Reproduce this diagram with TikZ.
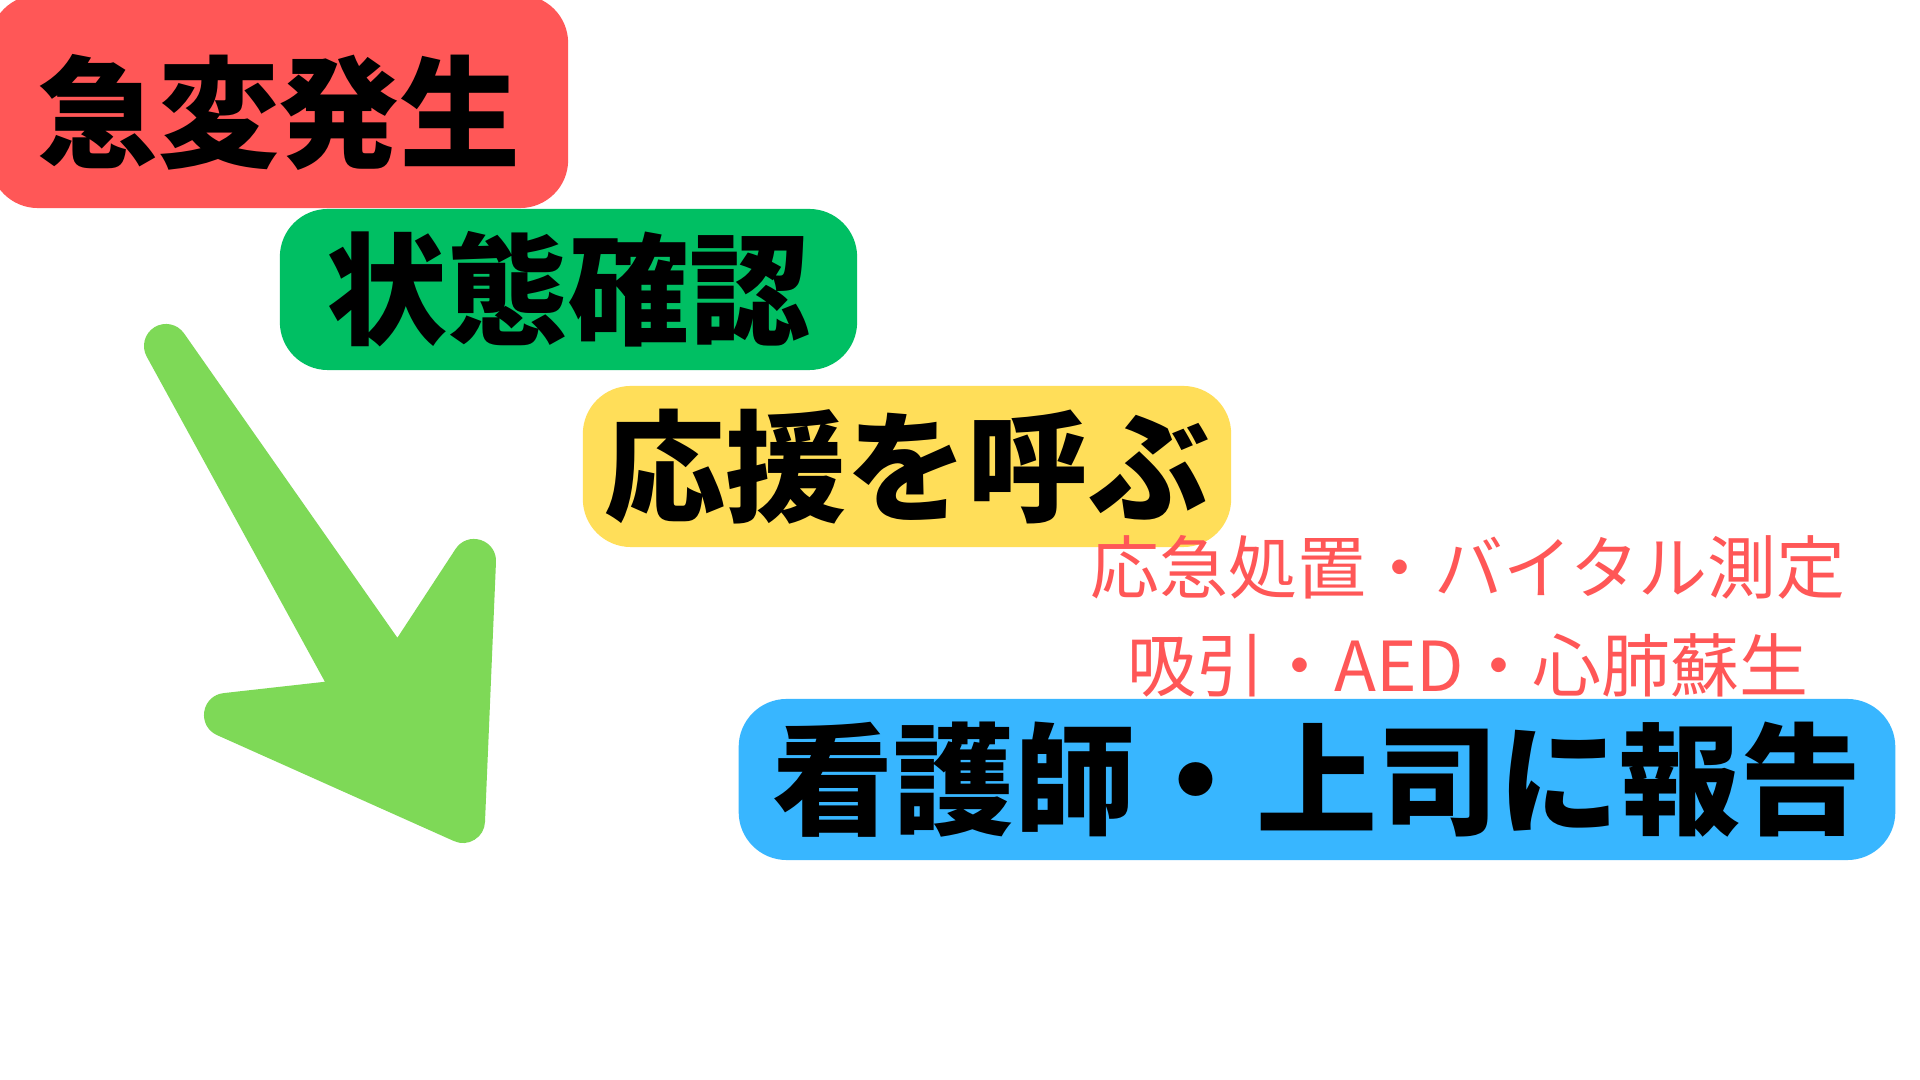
\documentclass[tikz,border=0pt]{standalone}
\usepackage{fontspec}
\usetikzlibrary{positioning}
\newfontfamily\jpfont{Noto Sans CJK JP}
\definecolor{onsetred}{HTML}{FF5757}
\definecolor{checkgreen}{HTML}{00BF63}
\definecolor{callyellow}{HTML}{FFDE59}
\definecolor{reportblue}{HTML}{38B6FF}
\definecolor{flowgreen}{HTML}{7ED957}

\begin{document}
\begin{tikzpicture}[
    x=0.01cm, y=-0.01cm,
    stagebox/.style={rectangle, rounded corners=0.48cm, minimum height=1.61cm, inner sep=0pt,
                     align=center, font=\jpfont\bfseries\fontsize{34.4pt}{40pt}\selectfont},
    onsetbox/.style={stagebox, fill=onsetred, minimum width=5.78cm, minimum height=2.13cm,
                     text height=1.28cm, text depth=0.15cm},
    checkbox/.style={stagebox, fill=checkgreen, minimum width=5.77cm},
    callbox/.style={stagebox, fill=callyellow, minimum width=6.48cm},
    reportbox/.style={stagebox, fill=reportblue, minimum width=11.56cm},
    notetext/.style={align=center, text=onsetred, font=\jpfont\fontsize{19.6pt}{27.9pt}\selectfont},
    flowarrow/.style={fill=flowgreen, draw=flowgreen, line width=0.44cm, line join=round}
]
\fill[white] (0,0) rectangle (1920,1080);
\useasboundingbox (0,0) rectangle (1920,1080);

% big arrow
\filldraw[flowarrow] (166,346) -- (360,700) -- (226,715) -- (463,821) -- (474,561) -- (398,677) -- cycle;

\node[onsetbox] (onset) at (279,101.5) {急変発生};
\node[checkbox] (check) at (568.5,289.5) {状態確認};
\node[callbox] (call) at (907,466.5) {応援を呼ぶ};
\node[notetext] (measures) at (1468,616) {応急処置・バイタル測定\\吸引・AED・心肺蘇生};
\node[reportbox] (report) at (1317,779.5) {看護師・上司に報告};

\end{tikzpicture}
\end{document}
